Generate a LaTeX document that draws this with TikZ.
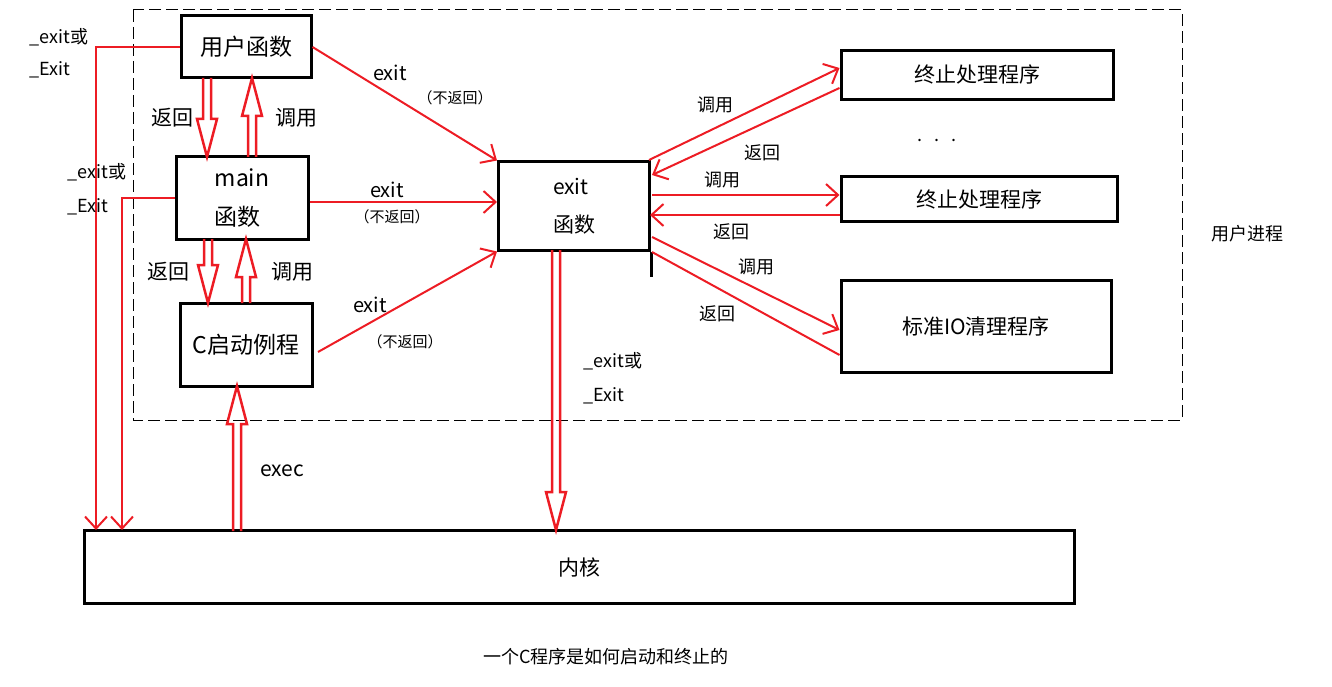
\documentclass[tikz,border=0pt]{standalone}
\usepackage{fontspec}
\setmainfont{Noto Sans CJK SC}
\usetikzlibrary{positioning, arrows.meta}
\definecolor{penred}{RGB}{237,28,36}

\tikzset{
  box/.style={draw, line width=3pt, inner sep=0pt},
  call/.style={penred, line width=2pt, -{Straight Barb[length=12pt,width=22pt]}},
  lbl/.style={font=\fontsize{18}{20}\selectfont},
  small/.style={font=\fontsize{15}{17}\selectfont},
}
% hollow arrow: {x}{from y}{to y}
\newcommand{\hollowarrow}[3]{%
  \pgfmathsetmacro{\dirn}{(#3>#2)?1:-1}
  \draw[penred, line width=2.5pt, line join=miter]
    (#1-4,#2) -- (#1-4,#3-\dirn*38) -- (#1-10,#3-\dirn*38) -- (#1,#3)
    -- (#1+10,#3-\dirn*38) -- (#1+4,#3-\dirn*38) -- (#1+4,#2);}

\begin{document}
\begin{tikzpicture}[x=1pt,y=-1pt]
  \useasboundingbox (0,0) rectangle (1332,687);
  \draw[dash pattern=on 12pt off 5pt, line width=1pt] (133,10) rectangle (1182,420);
  \node[lbl] (proc) at (1247,234) {用户进程};

  \node[box, minimum width=130pt, minimum height=62pt, font=\fontsize{23}{25}\selectfont] (user) at (246,47) {用户函数};
  \node[box, minimum width=132pt, minimum height=82pt, align=left, font=\fontsize{23}{39}\selectfont] (main) at (242,198) {main\\函数};
  \node[box, minimum width=132pt, minimum height=83pt, font=\fontsize{23}{25}\selectfont] (cstart) at (246,345) {C启动例程};
  \node[box, minimum width=151pt, minimum height=88pt, align=left, font=\fontsize{21}{38}\selectfont] (exitf) at (574,206) {exit\\函数};
  \draw[line width=3pt] (exitf.south east) -- ++(0,25);
  \node[box, minimum width=272pt, minimum height=49pt, font=\fontsize{21}{23}\selectfont] (h1) at (977,75) {终止处理程序};
  \node[font=\fontsize{18}{20}\selectfont] (dots) at (937,140) {.\ \ \ .\ \ \ .};
  \node[box, minimum width=276pt, minimum height=44pt, font=\fontsize{21}{23}\selectfont] (h2) at (979,199) {终止处理程序};
  \node[box, minimum width=270pt, minimum height=92pt, font=\fontsize{21}{23}\selectfont] (stdio) at (976,326) {标准IO清理程序};
  \node[box, minimum width=990pt, minimum height=73pt, font=\fontsize{21}{23}\selectfont] (kernel) at (579,567) {内核};
  \node[lbl] (caption) at (606,657) {一个C程序是如何启动和终止的};

  % hollow call / return arrows
  \hollowarrow{207}{78}{157}
  \hollowarrow{252}{157}{78}
  \hollowarrow{208}{239}{303}
  \hollowarrow{246}{303}{239}
  \hollowarrow{237}{531}{386}
  \hollowarrow{556}{250}{530}
  \node[font=\fontsize{21}{23}\selectfont] at (172,118) {返回};
  \node[font=\fontsize{21}{23}\selectfont] at (296,118) {调用};
  \node[font=\fontsize{21}{23}\selectfont] at (168,272) {返回};
  \node[font=\fontsize{21}{23}\selectfont] at (292,272) {调用};
  \node[font=\fontsize{21}{23}\selectfont] at (282,471) {exec};
  \node[lbl, anchor=west] at (580,361) {\_exit或};
  \node[lbl, anchor=west] at (580,396) {\_Exit};

  % _exit paths into the kernel
  \coordinate (k1) at (96,530);
  \coordinate (k2) at (122,530);
  \draw[call] (user.west) -| (k1);
  \draw[call] (main.west) -| (k2);
  \node[lbl, anchor=west] at (26,37) {\_exit或};
  \node[lbl, anchor=west] at (26,70) {\_Exit};
  \node[lbl, anchor=west] at (64,172) {\_exit或};
  \node[lbl, anchor=west] at (64,207) {\_Exit};

  % calls of exit
  \draw[call] (user.east) -- (exitf.north west);
  \node[font=\fontsize{20}{22}\selectfont] at (390,73) {exit};
  \node[small] at (455,98) {（不返回）};
  \draw[call] (main.east |- 0,202) -- (exitf.west |- 0,202);
  \node[font=\fontsize{20}{22}\selectfont] at (387,190) {exit};
  \node[small] at (392,217) {（不返回）};
  \draw[call] (318,352) -- (exitf.south west);
  \node[font=\fontsize{20}{22}\selectfont] at (370,305) {exit};
  \node[small] at (405,342) {（不返回）};

  % exit handlers
  \draw[call] (649,160) -- (h1.west |- 0,68);
  \draw[call] (h1.west |- 0,88) -- (652,175);
  \node[lbl] at (715,105) {调用};
  \node[lbl] at (762,153) {返回};
  \draw[call] (652,195) -- (h2.west |- 0,195);
  \draw[call] (h2.west |- 0,215) -- (650,215);
  \node[lbl] at (722,180) {调用};
  \node[lbl] at (731,232) {返回};
  \draw[call] (652,237) -- (stdio.west |- 0,330);
  \draw[penred, line width=2pt] (stdio.west |- 0,355) -- (652,252);
  \node[lbl] at (756,267) {调用};
  \node[lbl] at (717,314) {返回};
\end{tikzpicture}
\end{document}
